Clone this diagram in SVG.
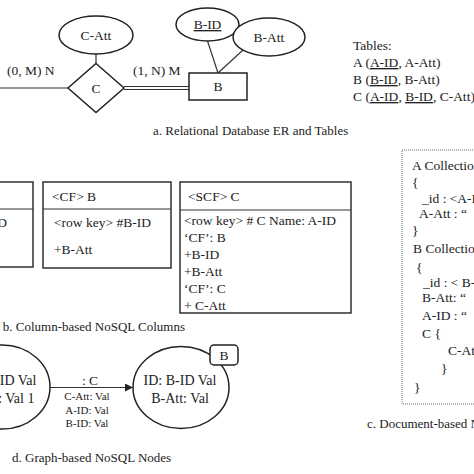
<svg xmlns="http://www.w3.org/2000/svg" width="474" height="474" viewBox="0 0 474 474">
<style>
text{font-family:"Liberation Serif","Times New Roman",serif;fill:#222;font-size:13.5px}
.cap{font-size:13px}
.sm{font-size:11px}
.g{font-size:14px}
.shape{fill:#fff;stroke:#222;stroke-width:1.5}
.box{fill:#fff;stroke:#222;stroke-width:1.4}
.ln{stroke:#333;stroke-width:1.2;fill:none}
.u{text-decoration:underline}
.mid{text-anchor:middle}
</style>
<defs>
<marker id="arr" viewBox="0 0 10 10" refX="10" refY="5" markerWidth="10" markerHeight="8" markerUnits="userSpaceOnUse" orient="auto">
<path d="M0,0 L10,5 L0,10 z" fill="#222"/>
</marker>
</defs>

<g id="connectors">
<line class="ln" x1="0" y1="88" x2="68" y2="88"/>
<line class="ln" x1="96" y1="54" x2="96" y2="63.5"/>
<line class="ln" x1="124" y1="86.5" x2="189" y2="86.5"/>
<line class="ln" x1="124" y1="89.5" x2="189" y2="89.5"/>
<line class="ln" x1="207.5" y1="41" x2="218" y2="73"/>
<line class="ln" x1="243" y1="50" x2="218" y2="73"/>
<line class="ln" x1="50" y1="387.5" x2="133" y2="387.5" marker-end="url(#arr)"/>
<text x="7" y="75">(0, M) N</text>
<text x="133" y="75">(1, N) M</text>
<text class="mid" x="90" y="385">: C</text>
<text class="sm mid" x="87" y="400">C-Att: Val</text>
<text class="sm mid" x="87" y="414">A-ID: Val</text>
<text class="sm mid" x="87" y="427">B-ID: Val</text>
</g>

<g id="er-c-att">
<ellipse class="shape" cx="96" cy="35" rx="37" ry="19"/>
<text class="mid" x="96" y="40">C-Att</text>
</g>
<g id="er-c">
<polygon class="shape" points="96,63.5 124,88 96,112.5 68,88"/>
<text class="mid" x="96" y="93">C</text>
</g>
<g id="er-b">
<rect class="shape" x="189" y="73" width="58" height="27"/>
<text class="mid" x="218" y="91">B</text>
</g>
<g id="er-b-id">
<ellipse class="shape" cx="207.5" cy="24.5" rx="31.5" ry="16.5"/>
<text class="mid u" x="207.5" y="29">B-ID</text>
</g>
<g id="er-b-att">
<ellipse class="shape" cx="269" cy="37" rx="36" ry="19"/>
<text class="mid" x="269" y="42">B-Att</text>
</g>
<g id="tables">
<text x="353" y="50">Tables:</text>
<text x="353" y="67">A (<tspan class="u">A-ID</tspan>, A-Att)</text>
<text x="353" y="84">B (<tspan class="u">B-ID</tspan>, B-Att)</text>
<text x="353" y="101">C (<tspan class="u">A-ID</tspan>, <tspan class="u">B-ID</tspan>, C-Att)</text>
</g>
<text class="cap" x="153" y="135">a. Relational Database ER and Tables</text>

<g id="cf-a">
<rect class="box" x="-100" y="182" width="133" height="85"/>
<line class="ln" x1="-100" y1="209" x2="33" y2="209"/>
<text x="7" y="227" text-anchor="end">&lt;row key&gt; #A-ID</text>
</g>
<g id="cf-b">
<rect class="box" x="43" y="182" width="128" height="86"/>
<line class="ln" x1="43" y1="209" x2="171" y2="209"/>
<text x="52" y="201">&lt;CF&gt; B</text>
<text x="54" y="227">&lt;row key&gt; #B-ID</text>
<text x="54" y="254">+B-Att</text>
</g>
<g id="scf-c">
<rect class="box" x="180" y="182" width="171" height="131"/>
<line class="ln" x1="180" y1="210" x2="351" y2="210"/>
<text x="188" y="201">&lt;SCF&gt; C</text>
<text x="184" y="225">&lt;row key&gt; # C Name: A-ID</text>
<text x="184" y="242">‘CF’: B</text>
<text x="184" y="259">+B-ID</text>
<text x="184" y="276">+B-Att</text>
<text x="184" y="293">‘CF’: C</text>
<text x="184" y="310">+ C-Att</text>
</g>
<text class="cap" x="185" y="331" text-anchor="end">b. Column-based NoSQL Columns</text>

<g id="doc">
<rect x="402" y="150" width="120" height="254" fill="#fff" stroke="#666" stroke-width="1" stroke-dasharray="1,1"/>
<text x="412" y="170">A Collection</text>
<text x="412" y="187">{</text>
<text x="422" y="203">_id : &lt;A-ID&gt;</text>
<text x="419" y="218">A-Att : “</text>
<text x="412" y="235">}</text>
<text x="413" y="253">B Collection</text>
<text x="416" y="272">{</text>
<text x="423" y="287">_id : &lt; B-ID&gt;</text>
<text x="422" y="302">B-Att: “</text>
<text x="422" y="320">A-ID : “</text>
<text x="422" y="338">C {</text>
<text x="448" y="355">C-Att</text>
<text x="441" y="373">}</text>
<text x="414" y="392">}</text>
</g>
<text class="cap" x="367" y="428">c. Document-based NoSQL</text>

<g id="node-a">
<ellipse class="shape" cx="2" cy="387" rx="48" ry="42"/>
<text class="g mid" x="0" y="385">ID: A-ID Val</text>
<text class="g mid" x="0" y="403">A-Att: Val 1</text>
</g>
<g id="node-b">
<ellipse class="shape" cx="181" cy="387.5" rx="48" ry="41"/>
<text class="g mid" x="180" y="385">ID: B-ID Val</text>
<text class="g mid" x="180" y="403">B-Att: Val</text>
</g>
<g id="label-b">
<rect x="210" y="345" width="28" height="20" rx="4" fill="#fff" stroke="#222" stroke-width="1.5"/>
<text class="mid" x="224" y="360">B</text>
</g>
<text class="cap" x="12" y="462">d. Graph-based NoSQL Nodes</text>
</svg>
